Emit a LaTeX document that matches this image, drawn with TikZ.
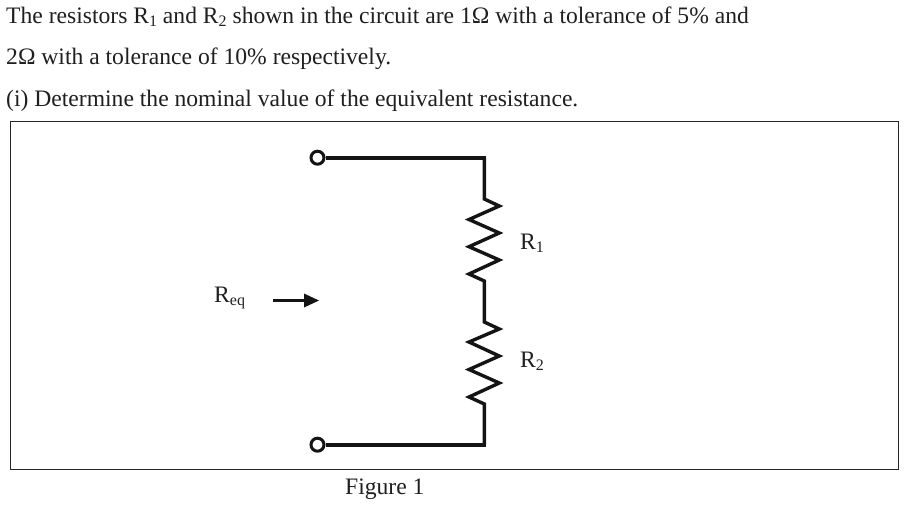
\documentclass[tikz,border=0pt]{standalone}
\usepackage{fontspec}
\setmainfont{Liberation Serif}
\newcommand{\sbs}[1]{\raisebox{-0.16em}{\fontsize{16}{18}\selectfont #1}}
\tikzset{
  x=1pt,y=-1pt,
  txt/.style={inner sep=0pt,anchor=base west,text=black!88,font=\fontsize{23.6}{26}\selectfont},
  lbl/.style={inner sep=0pt,anchor=base west,text=black!88,font=\fontsize{23.6}{26}\selectfont},
  wirethin/.style={line width=3.4pt,line join=miter,black!92},
  wirethick/.style={line width=4.4pt,black!92},
  term/.style={circle,draw=black!92,fill=white,line width=3pt,minimum size=13pt,inner sep=0pt},
  frm/.style={draw=black!85,line width=0.95pt}
}
\begin{document}
\begin{tikzpicture}
\useasboundingbox (0,0) rectangle (905,504);
\node[txt] (l1) at (6,23) {The resistors R\sbs{1} and R\sbs{2} shown in the circuit are 1Ω with a tolerance of 5\% and};
\node[txt] (l2) at (6,64) {2Ω with a tolerance of 10\% respectively.};
\node[txt] (l3) at (6,106) {(i) Determine the nominal value of the equivalent resistance.};
\draw[frm] (10,121) rectangle (898,469);
\node[term] (t1) at (317.5,157.7) {};
\node[term] (t2) at (317.5,444.7) {};
\coordinate (c1) at (484.3,157.7);
\coordinate (c2) at (484.3,444.7);
\draw[wirethick] (t1) -- (486,157.7);
\draw[wirethick] (t2) -- (486,444.7);
\draw[wirethin] (c1) -- (484.3,199) -- (499.3,206) -- (469,219.5) -- (499.3,233) -- (469,246.7) -- (499.3,260) -- (469,274) -- (484.3,281)
  -- (484.3,322) -- (499.3,329) -- (469,342) -- (499.3,356) -- (469,369.5) -- (499.3,383) -- (469,397) -- (484.3,404) -- (c2);
\node[lbl] (r1) at (520,249) {R\sbs{1}};
\node[lbl] (r2) at (520,367) {R\sbs{2}};
\node[lbl] (req) at (214,302) {R\sbs{eq}};
\coordinate (a1) at (273,300.5);
\coordinate (a2) at (319,300.5);
\draw[line width=3.4pt,black!92] (a1) -- (306,300.5);
\fill[black!92] (a2) -- (304,293.5) -- (304,307.5) -- cycle;
\node[lbl] (fig) at (345,494) {Figure 1};
\end{tikzpicture}
\end{document}
